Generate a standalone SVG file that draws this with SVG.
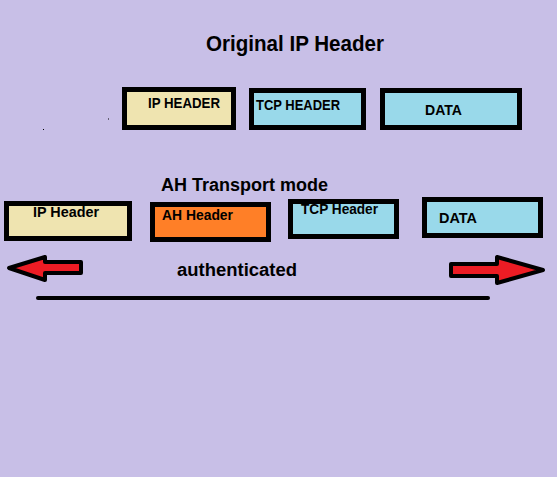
<svg xmlns="http://www.w3.org/2000/svg" width="557" height="477" viewBox="0 0 557 477">
<style>
.box{stroke:#000;stroke-width:5}
.beige{fill:#EFE4B0}
.blue{fill:#99D9EA}
.orange{fill:#FF7F27}
.lbl{font-family:"Liberation Sans",Arial,sans-serif;font-weight:bold;fill:#000}
.arrow{fill:#ED1C24;stroke:#000;stroke-width:4;stroke-linejoin:round}
</style>
<rect width="557" height="477" fill="#C8BFE7"/>
<text class="lbl" x="206" y="51" font-size="22" textLength="178" lengthAdjust="spacingAndGlyphs">Original IP Header</text>
<text class="lbl" x="161" y="191" font-size="18" textLength="167" lengthAdjust="spacingAndGlyphs">AH Transport mode</text>
<text class="lbl" x="177" y="276" font-size="18" textLength="120" lengthAdjust="spacingAndGlyphs">authenticated</text>
<rect x="108" y="118.5" width="1" height="1" fill="#000"/>
<rect x="43" y="129" width="1" height="1" fill="#000"/>
<g id="ip-header-orig">
<rect class="box beige" x="124.5" y="89.5" width="109" height="38"/>
<text class="lbl" x="148" y="108" font-size="14" textLength="72" lengthAdjust="spacingAndGlyphs">IP HEADER</text>
</g>
<g id="tcp-header-orig">
<rect class="box blue" x="251.5" y="90.5" width="112" height="37"/>
<text class="lbl" x="256" y="110" font-size="14" textLength="84" lengthAdjust="spacingAndGlyphs">TCP HEADER</text>
</g>
<g id="data-orig">
<rect class="box blue" x="382.5" y="90.5" width="137" height="37"/>
<text class="lbl" x="425" y="115" font-size="14" textLength="37" lengthAdjust="spacingAndGlyphs">DATA</text>
</g>
<g id="ip-header-ah">
<rect class="box beige" x="6.5" y="203.5" width="123" height="35"/>
<text class="lbl" x="33" y="217" font-size="14" textLength="66" lengthAdjust="spacingAndGlyphs">IP Header</text>
</g>
<g id="ah-header">
<rect class="box orange" x="152.5" y="204.5" width="116" height="35"/>
<text class="lbl" x="162" y="220" font-size="14" textLength="71" lengthAdjust="spacingAndGlyphs">AH Header</text>
</g>
<g id="tcp-header-ah">
<rect class="box blue" x="290.5" y="201.5" width="106" height="35"/>
<text class="lbl" x="301" y="214" font-size="14" textLength="77" lengthAdjust="spacingAndGlyphs">TCP Header</text>
</g>
<g id="data-ah">
<rect class="box blue" x="424.5" y="199.5" width="116" height="36"/>
<text class="lbl" x="439" y="223" font-size="14" textLength="38" lengthAdjust="spacingAndGlyphs">DATA</text>
</g>
<g id="connectors">
<path class="arrow" d="M9,268 L45,257 L45,262 L81,262 L81,273 L45,273 L45,280 Z"/>
<path class="arrow" d="M543,270 L497,257 L497,264 L451,264 L451,276 L497,276 L497,283 Z"/>
<line x1="38" y1="298" x2="488" y2="298" stroke="#000" stroke-width="4" stroke-linecap="round"/>
</g>
</svg>
